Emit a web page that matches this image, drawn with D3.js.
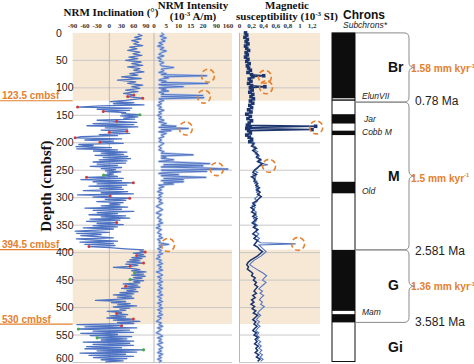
<!DOCTYPE html>
<html><head><meta charset="utf-8">
<script src="https://cdn.jsdelivr.net/npm/d3@7"></script>
<style>body{margin:0;background:#fff}svg{display:block}</style></head>
<body><svg id="c" width="474" height="364"></svg>
<script>
// ---------------- DATA ----------------
const depthTicks = [0,50,100,150,200,250,300,350,400,450,500,550,600];
const incTicks = [-90,-60,-30,0,30,60,90];
const intTicks = [0,5,10,15,20,90,160];
const susTicks = [0,0.2,0.4,0.6,0.8,1,1.2];
const shadedBands = [[0,123.5],[394.5,530]];
const bandLabels = ["123.5 cmbsf","394.5 cmbsf","530 cmbsf"];
const bandLabelDepths = [123.5,394.5,530];

// NRM inclination [depth, inclination]
const inclination = [
[2,70],[5,80],[8,62],[11,78],[14,55],[17,72],[20,60],[23,82],[26,50],[29,68],[32,45],[35,75],[38,58],[41,80],[44,48],[47,70],[50,40],[53,78],[56,55],[59,82],[62,45],[65,75],[68,60],[71,85],[74,50],[77,70],[80,30],[83,78],[86,20],[89,65],[92,45],[95,82],[98,55],[101,75],[104,40],[107,70],[110,35],[113,60],[116,45],[119,82],[122,50],
[123,40],[125,2],[127,60],[129,10],[131,85],[133,-20],[135,-78],[137,55],[139,-30],[141,50],[143,-15],[145,40],[147,30],[149,75],[151,28],[153,70],[155,35],[157,62],[159,-30],[161,18],[163,67],[165,-40],[167,60],[169,-55],[171,70],[173,-10],[175,45],[177,-20],[179,43],[181,0],[183,50],[185,-25],[187,20],[189,-70],[191,-84],[193,30],[195,-60],[197,10],[199,-23],[201,34],[203,-75],[205,-40],[207,-82],[209,5],[211,-80],[213,20],[215,-39],[217,43],[219,-20],[221,35],[223,-35],[225,45],[227,-15],[229,52],[231,-25],[233,43],[235,-40],[237,40],[239,-30],[241,20],[243,-47],[245,30],[247,-20],[249,15],[251,-10],[253,28],[255,-5],[257,10],[259,-14],[261,20],[263,-56],[265,34],[267,-70],[269,30],[271,-40],[273,59],[275,-30],[277,43],[279,-50],[281,30],[283,-23],[285,34],[287,-64],[289,45],[291,-20],[293,59],[295,-78],[297,2],[299,-40],[301,50],[303,-10],[305,40],[307,-31],[309,34],[311,2],[313,26],[315,-20],[317,45],[319,-60],[321,30],[323,-40],[325,60],[327,-30],[329,20],[331,-50],[333,40],[335,-20],[337,50],[339,-47],[341,26],[343,-56],[345,18],[347,-30],[349,34],[351,-40],[353,20],[355,-64],[357,10],[359,-30],[361,-84],[363,0],[365,-80],[367,-20],[369,-70],[371,-31],[373,10],[375,-81],[377,-40],[379,20],[381,-72],[383,10],[385,-60],[387,14],[389,-50],[391,0],[393,40],
[395,84],[397,75],[399,88],[401,59],[403,84],[405,67],[407,88],[409,55],[411,80],[413,50],[415,75],[417,43],[419,84],[421,40],[423,70],[425,51],[427,10],[429,60],[431,75],[433,55],[435,90],[437,62],[439,84],[441,55],[443,88],[445,60],[447,80],[449,51],[451,84],[453,60],[455,75],[457,34],[459,70],[461,40],[463,75],[465,30],[467,65],[469,43],[471,70],[473,26],[475,60],[477,10],[479,55],[481,20],[483,60],[485,15],[487,-34],[489,40],[491,5],[493,51],[495,20],[497,67],[499,10],[501,50],[503,26],[505,40],[507,-5],[509,30],[511,18],[513,45],[515,2],[517,40],[519,-6],[521,59],[523,10],[525,75],[527,20],[529,60],
[531,-80],[533,30],[535,-60],[537,67],[539,-76],[541,50],[543,-40],[545,59],[547,-70],[549,20],[551,-47],[553,55],[555,-30],[557,43],[559,-20],[561,60],[563,-64],[565,50],[567,-40],[569,59],[571,-56],[573,30],[575,-60],[577,84],[579,-30],[581,67],[583,-72],[585,40],[587,-50],[589,59],[591,-39],[593,43],[595,-20],[597,34],[599,-10]
];
const incRedDots = [[113,60],[116,45],[119,82],[135,-78],[143,-15],[161,18],[179,43],[181,0],[191,-84],[199,-23],[263,-56],[273,59],[297,2],[301,50],[345,18],[389,-50],[399,88],[405,67],[419,84],[425,51],[461,40],[511,18],[521,59],[533,30]];
const incGreenDots = [[149,75],[259,-14],[437,62],[449,51],[539,-76],[555,-30],[577,84]];

// NRM intensity [depth, value]
const intensity = [
[0,3],[3,4],[6,2.5],[9,5],[12,3],[15,4.5],[18,2],[21,3.5],[24,1.5],[27,4],[30,2.5],[33,5],[36,3],[39,2],[42,4],[45,1.5],[48,3],[51,2],[54,4],[57,2.5],[60,3],[63,8],[66,3],[69,4],[72,2],[74,5],[76,3],[78,40],[80,4],[82,6],[84,3],[86,2],[88,5],[90,3],[92,45],[94,2],[96,4],[98,12],[100,2],[102,5],[104,3],[106,6],[108,2],[110,4],[112,3],[114,20],[116,3],[118,25],[120,2],
[123,4],[126,2],[129,3],[132,1.5],[135,3],[138,2],[141,4],[144,2],[147,3],[150,1.5],[153,3],[156,2],[159,4],[162,2],[165,5],[168,3],[170,9],[172,2],[174,14],[176,3],[178,7],[180,2],[183,5],[186,3],[189,4],[192,2],[195,3],[198,2],[201,4],[204,3],[207,2],[210,3],[213,2],[216,4],[219,3],[222,16],[224,3],[226,5],[228,3],[231,8],[234,2],[236,12],[238,55],[240,4],[242,20],[244,3],[246,30],[248,160],[250,3],[252,40],[254,5],[256,2],[258,10],[260,3],[263,35],[265,4],[267,12],[269,3],[271,12],[273,4],[275,8],[277,2],[280,4],[283,2],[286,3],[289,1.5],[292,3.5],[295,2],[298,3],[301,1.5],[304,3],[307,2],[310,3.5],[313,2],[316,1],[319,2.5],[322,3.5],[325,2],[328,1],[331,3],[334,2],[337,1.5],[340,3],[343,2],[346,3.5],[349,1.5],[352,2.5],[355,1],[358,3],[361,2],[364,1.5],[367,3],[370,2],[373,3.5],[376,1.5],[379,2.5],[382,2],[385,6],[387,2],[390,3],[393,1.5],[396,3],[399,2],[402,3.5],[405,1.5],[408,2.5],[411,1],[414,3],[417,2],[420,3.5],[423,1.5],[426,3],[429,2],[432,3.5],[435,1],[438,2.5],[441,3.5],[444,1.5],[447,3],[450,2],[453,3.5],[456,1.5],[459,3],[462,2],[465,3.5],[468,1.5],[471,3],[474,2],[477,3.5],[480,1.5],[483,3],[486,2],[489,3.5],[492,1.5],[495,3],[498,2],[501,3.5],[504,1.5],[507,3],[510,2],[513,3.5],[516,1.5],[519,3],[522,2],[525,1],[528,3],[531,2],[534,3.5],[537,1.5],[540,3],[543,2],[546,1],[549,2.5],[552,3.5],[555,1.5],[558,3],[561,2],[564,3.5],[567,1.5],[570,2.5],[573,3.5],[576,2],[579,3],[582,1.5],[585,3.5],[588,2],[591,3],[594,1.5],[597,3],[600,2]
];
const intensityCircles = [[78,46],[116,25],[174,13],[248,92],[386,5.7]];

// Magnetic susceptibility, two series [depth, value]
const susDark = [
[0,0.10],[4,0.12],[8,0.09],[12,0.13],[16,0.11],[20,0.14],[24,0.10],[28,0.12],[32,0.15],[36,0.11],[40,0.13],[44,0.10],[48,0.14],[52,0.12],[56,0.16],[60,0.13],[64,0.15],[68,0.18],[72,0.14],[76,0.20],[78,0.40],[80,0.22],[84,0.16],[88,0.19],[92,0.15],[96,0.20],[98,0.42],[100,0.18],[104,0.21],[108,0.17],[112,0.22],[116,0.19],[120,0.23],[124,0.18],[128,0.22],[132,0.17],[136,0.20],[140,0.15],[144,0.19],[148,0.12],[152,0.18],[156,0.14],[160,0.20],[164,0.16],[168,0.13],[170,1.26],[172,0.18],[174,0.12],[176,1.20],[178,0.15],[182,0.18],[186,0.12],[190,0.16],
[194,0.20],[198,0.17],[202,0.24],[206,0.20],[210,0.28],[214,0.22],[218,0.27],[222,0.31],[226,0.28],[230,0.35],[234,0.30],[238,0.38],[242,0.33],[246,0.30],[250,0.25],[254,0.22],[258,0.28],[262,0.20],[266,0.26],[270,0.24],[274,0.30],[278,0.27],[282,0.33],[286,0.28],[290,0.34],[294,0.30],[298,0.36],[302,0.32],[306,0.28],[310,0.22],[314,0.26],[318,0.19],[322,0.24],[326,0.20],[330,0.27],[334,0.22],[338,0.29],[342,0.25],[346,0.21],[350,0.27],[354,0.23],[358,0.30],[362,0.26],[366,0.22],[370,0.28],[374,0.24],[378,0.30],[382,0.27],[386,0.24],[390,0.30],[394,0.33],[398,0.38],[402,0.34],[406,0.30],[410,0.24],[414,0.18],[418,0.14],[422,0.12],[426,0.15],[430,0.13],[434,0.18],[438,0.22],[442,0.20],[446,0.26],[450,0.23],[454,0.28],[458,0.25],[462,0.30],[466,0.27],[470,0.24],[474,0.28],[478,0.22],[482,0.26],[486,0.20],[490,0.24],[494,0.19],[498,0.25],[502,0.21],[506,0.27],[510,0.23],[514,0.30],[518,0.26],[522,0.22],[526,0.27],[530,0.24],[534,0.29],[538,0.25],[542,0.22],[546,0.28],[550,0.24],[554,0.30],[558,0.26],[562,0.29],[566,0.25],[570,0.31],[574,0.27],[578,0.30],[582,0.26],[586,0.32],[590,0.28],[594,0.34],[598,0.30]
];
const susLight = [
[180,0.16],[184,0.20],[188,0.17],[192,0.22],[196,0.19],[200,0.25],[204,0.21],[208,0.27],[212,0.23],[216,0.30],[220,0.26],[224,0.33],[228,0.29],[232,0.36],[236,0.31],[240,0.47],[242,0.34],[246,0.28],[250,0.24],[254,0.30],[258,0.22],[262,0.27],[266,0.23],[270,0.29],[274,0.25],[278,0.31],[282,0.27],[286,0.32],[290,0.28],[294,0.33],[298,0.29],[302,0.25],[306,0.30],[310,0.26],[314,0.21],[318,0.26],[322,0.22],[326,0.28],[330,0.24],[334,0.29],[338,0.23],[342,0.28],[346,0.24],[350,0.30],[354,0.25],[358,0.31],[362,0.27],[366,0.32],[370,0.28],[374,0.33],[378,0.29],[382,0.35],[384,0.93],[386,0.32],[390,0.36],[394,0.40],[398,0.44],[402,0.40],[406,0.36],[410,0.30],[414,0.24],[418,0.20],[422,0.17],[426,0.22],[430,0.28],[434,0.34],[438,0.40],[442,0.45],[446,0.41],[450,0.38],[454,0.44],[458,0.40],[462,0.36],[466,0.32],[470,0.38],[474,0.34],[478,0.40],[482,0.36],[486,0.33],[490,0.38],[494,0.35],[498,0.41],[502,0.37],[506,0.33],[510,0.30],[514,0.35],[518,0.31],[522,0.28],[526,0.33],[530,0.29],[534,0.34],[538,0.30],[542,0.27],[546,0.32],[550,0.28],[554,0.33],[558,0.29],[562,0.35],[566,0.31],[570,0.36],[574,0.32],[578,0.37],[582,0.33],[586,0.38],[590,0.34],[594,0.39],[598,0.35]
];
const susCircles = [[80,0.42],[99,0.44],[172,1.27],[242,0.49],[384,0.97]];

// Chrons
const normalBlocks = [[0,119],[121,123.5],[148,165],[178,186],[271,292],[395,506],[512,527]];
const chronBoundaries = [0,126,395,527];
const chronNames = ["Br","M","G","Gi"];
const chronNameDepths = [71,270,468,581];
const rateLabels = ["1.58 mm kyr","1.5 mm kyr","1.36 mm kyr"];
const ageLabels = ["0.78 Ma","2.581 Ma","3.581 Ma"];
const ageLabelDepths = [131,404,534];
const subchronNames = ["ElunVII","Jar","Cobb M","Old","Mam"];
const subchronDepths = [120.5,162,186,293,514];

// ---------------- DRAW ----------------
const svg = d3.select("#c");
const orange = "#e4812f";
const y = d3.scaleLinear().domain([0,600]).range([32.9,362.5]);
const xInc = d3.scaleLinear().domain([-90,90]).range([72.7,146]);
const xInt = d3.scaleLinear().domain([0,20,90,160]).range([154,203,216.5,228]);
const xSus = d3.scaleLinear().domain([0,1.2]).range([239.5,312]);
const panels = [[72.7,154],[154,232],[239.5,320]];

// shaded bands
const bandRects = [[72.7,232],[239.5,320]];
bandRects.forEach(p=>{
  svg.append("g").selectAll("rect").data(shadedBands).join("rect")
    .attr("x",p[0]).attr("width",p[1]-p[0])
    .attr("y",d=>y(d[0])).attr("height",d=>y(d[1])-y(d[0]))
    .attr("fill","#f6e8d4");
});
// gridlines
panels.forEach(p=>{
  svg.append("g").selectAll("line").data(depthTicks.filter(d=>d>0)).join("line")
    .attr("x1",p[0]).attr("x2",p[1]).attr("y1",d=>y(d)).attr("y2",d=>y(d))
    .attr("stroke","#c8c8c8").attr("stroke-width",1);
});
// vertical lines
svg.append("line").attr("x1",xInc(0)).attr("x2",xInc(0)).attr("y1",y(0)).attr("y2",y(600)).attr("stroke","#b0b0b0").attr("stroke-width",0.8);
svg.append("line").attr("x1",xInt(0)).attr("x2",xInt(0)).attr("y1",y(0)).attr("y2",y(600)).attr("stroke","#b8b8b8").attr("stroke-width",1);
svg.append("line").attr("x1",xSus(0)).attr("x2",xSus(0)).attr("y1",y(0)).attr("y2",y(600)).attr("stroke","#b8b8b8").attr("stroke-width",1);

// orange band boundary lines & labels
svg.append("g").selectAll("line").data(bandLabelDepths).join("line")
  .attr("x1",0).attr("x2",72.7).attr("y1",d=>y(d)).attr("y2",d=>y(d))
  .attr("stroke",orange).attr("stroke-width",1.2);
svg.append("g").selectAll("text").data(bandLabels).join("text")
  .attr("x",2).attr("y",(d,i)=>y(bandLabelDepths[i])-1.5)
  .attr("font-family","Liberation Sans, Arial, sans-serif").attr("font-size",10).attr("font-weight","bold")
  .attr("fill",orange).text(d=>d);

// depth axis labels
svg.append("g").selectAll("text").data(depthTicks).join("text")
  .attr("x",56).attr("y",d=>Math.min(y(d)+3.6,362))
  .attr("font-family","Liberation Sans, Arial, sans-serif").attr("font-size",10.5)
  .attr("fill","#222").text(d=>d);
svg.append("text").attr("transform","translate(51,186) rotate(-90)")
  .attr("text-anchor","middle").attr("font-family","Liberation Serif, Times New Roman, serif")
  .attr("font-weight","bold").attr("font-size",15).attr("fill","#111").text("Depth (cmbsf)");

// top tick labels
const tickFont = "Liberation Serif, Times New Roman, serif";
function topTicks(data, sc, fmt){
  svg.append("g").selectAll("text").data(data).join("text")
    .attr("x",d=>sc(d)).attr("y",27.5).attr("text-anchor","middle")
    .attr("font-family",tickFont).attr("font-size",7).attr("font-weight","bold").attr("fill","#333").text(fmt);
}
topTicks(incTicks,xInc,d=>d);
topTicks(intTicks,xInt,d=>d);
topTicks(susTicks,xSus,d=>String(d).replace(".",","));

// titles
function title(x,yy,txt,sup,after){
  const t = svg.append("text").attr("x",x).attr("y",yy).attr("text-anchor","middle")
    .attr("font-family","Liberation Serif, Times New Roman, serif").attr("font-weight","bold")
    .attr("font-size",11).attr("fill","#111");
  t.append("tspan").text(txt);
  if(sup){ t.append("tspan").attr("dy",-4).attr("font-size",7).text(sup);
           t.append("tspan").attr("dy",4).text(after); }
}
title(111,15.5,"NRM Inclination (°)");
title(193,9,"NRM Intensity");
title(193,19.5,"(10","-3"," A/m)");
title(287,9,"Magnetic");
title(287,19.5,"susceptibility (10","-3"," SI)");

// inclination line
const lineInc = d3.line().x(d=>xInc(d[1])).y(d=>y(d[0]));
svg.append("path").datum(inclination).attr("d",lineInc).attr("fill","none")
  .attr("stroke","#4e73c2").attr("stroke-width",1.3).attr("stroke-linejoin","round");
svg.append("g").selectAll("circle").data(incRedDots).join("circle")
  .attr("cx",d=>xInc(d[1])).attr("cy",d=>y(d[0])).attr("r",1.5).attr("fill","#cf3a3a");
svg.append("g").selectAll("circle").data(incGreenDots).join("circle")
  .attr("cx",d=>xInc(d[1])).attr("cy",d=>y(d[0])).attr("r",1.6).attr("fill","#46a84a");

// intensity line
const lineInt = d3.line().x(d=>xInt(d[1])).y(d=>y(d[0]));
svg.append("path").datum(intensity).attr("d",lineInt).attr("fill","none")
  .attr("stroke","#b5c7ea").attr("stroke-width",2.4).attr("stroke-linejoin","round");
svg.append("path").datum(intensity).attr("d",lineInt).attr("fill","none")
  .attr("stroke","#4d71c0").attr("stroke-width",0.9).attr("stroke-linejoin","round");

// susceptibility lines
const lineSus = d3.line().x(d=>xSus(d[1])).y(d=>y(d[0]));
svg.append("path").datum(susLight).attr("d",lineSus).attr("fill","none")
  .attr("stroke","#5577c0").attr("stroke-width",1.1);
svg.append("path").datum(susDark).attr("d",lineSus).attr("fill","none")
  .attr("stroke","#1d356e").attr("stroke-width",1.5);
svg.append("g").selectAll("rect").data(susDark.filter(d=>d[0]<=200)).join("rect")
  .attr("x",d=>xSus(d[1])-1.8).attr("y",d=>y(d[0])-1.8).attr("width",3.6).attr("height",3.6)
  .attr("fill","#1d356e");

// dashed orange circles
function circles(data, sc){
  svg.append("g").selectAll("circle").data(data).join("circle")
    .attr("cx",d=>sc(d[1])).attr("cy",d=>y(d[0])).attr("r",6.5)
    .attr("fill","none").attr("stroke",orange).attr("stroke-width",1.6).attr("stroke-dasharray","5,3");
}
circles(intensityCircles,xInt);
circles(susCircles,xSus);

// ---------------- CHRONS ----------------
const cx0 = 332, cx1 = 355;
svg.append("rect").attr("x",cx0).attr("y",y(0)).attr("width",cx1-cx0).attr("height",y(600)-y(0)-1)
  .attr("fill","#fff").attr("stroke","#111").attr("stroke-width",1);
svg.append("g").selectAll("rect").data(normalBlocks).join("rect")
  .attr("x",cx0).attr("width",cx1-cx0).attr("y",d=>y(d[0])).attr("height",d=>y(d[1])-y(d[0]))
  .attr("fill","#0d0d0d");

// braces
const bx = 409, tipx = 415;
for(let i=0;i<chronBoundaries.length-1;i++){
  const y1 = y(chronBoundaries[i]), y2 = y(chronBoundaries[i+1]), ym = (y1+y2)/2;
  const p = d3.path();
  p.moveTo(cx1,y1); p.lineTo(bx-5,y1); p.quadraticCurveTo(bx,y1,bx,y1+5);
  p.lineTo(bx,ym-5); p.quadraticCurveTo(bx,ym,tipx,ym); p.quadraticCurveTo(bx,ym,bx,ym+5);
  p.lineTo(bx,y2-5); p.quadraticCurveTo(bx,y2,bx-5,y2); p.lineTo(cx1,y2);
  svg.append("path").attr("d",p.toString()).attr("fill","none").attr("stroke","#8a8a8a").attr("stroke-width",1);
}

const sans = "Liberation Sans, Arial, sans-serif";
svg.append("text").attr("x",343).attr("y",18.5).attr("font-family",sans).attr("font-weight","bold")
  .attr("font-size",12).attr("fill","#111").text("Chrons");
svg.append("text").attr("x",343).attr("y",28).attr("font-family",sans).attr("font-style","italic")
  .attr("font-size",8.5).attr("fill","#222").text("Subchrons*");

svg.append("g").selectAll("text").data(chronNames).join("text")
  .attr("x",388).attr("y",(d,i)=>y(chronNameDepths[i])).attr("font-family",sans)
  .attr("font-weight","bold").attr("font-size",14).attr("fill","#111").text(d=>d);

const rt = svg.append("g").selectAll("text").data(rateLabels).join("text")
  .attr("x",411).attr("y",(d,i)=>y(chronNameDepths[i])+0.5).attr("font-family",sans)
  .attr("font-weight","bold").attr("font-size",10.2).attr("fill",orange);
rt.append("tspan").text(d=>d);
rt.append("tspan").attr("dy",-4.5).attr("font-size",5.5).text("-1");

svg.append("g").selectAll("text").data(ageLabels).join("text")
  .attr("x",415).attr("y",(d,i)=>y(ageLabelDepths[i])).attr("font-family",sans)
  .attr("font-size",12).attr("fill","#222").text(d=>d);

svg.append("g").selectAll("text").data(subchronNames).join("text")
  .attr("x",(d,i)=>i===1?364:362).attr("y",(d,i)=>y(subchronDepths[i])).attr("font-family",sans)
  .attr("font-style","italic").attr("font-size",8.5).attr("fill","#222").text(d=>d);
</script></body></html>
